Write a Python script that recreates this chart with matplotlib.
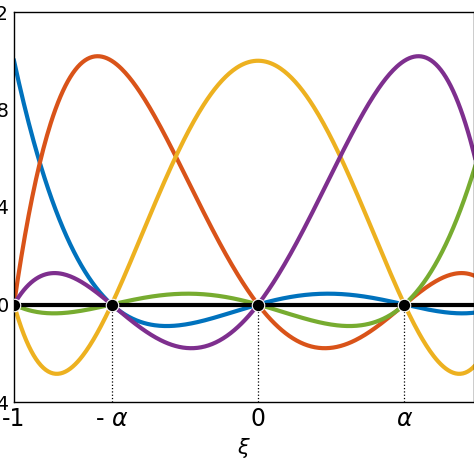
import matplotlib
matplotlib.use("Agg")
import matplotlib.pyplot as plt
import numpy as np

alpha = 0.6
nodes = [-1.0, -alpha, 0.0, alpha, 1.0]
colors = ['#0072BD', '#D95319', '#EDB120', '#7E2F8E', '#77AC30']
xtick_pos = [-1.0, -alpha, 0.0, alpha]
xtick_labels = ['-1', r'- $\alpha$', '0', r'$\alpha$']
ytick_pos = [-0.4, 0.0, 0.4, 0.8, 1.2]
ytick_labels = ['-0.4', '0', '0.4', '0.8', '1.2']

xi = np.linspace(-1, 1, 400)


def lagrange(k, x):
    out = np.ones_like(x)
    for j, xj in enumerate(nodes):
        if j != k:
            out *= (x - xj) / (nodes[k] - xj)
    return out


fig = plt.figure(figsize=(4.74, 4.74), dpi=100)
ax = fig.add_axes([14 / 474, 72 / 474, 460 / 474, 390 / 474])

for k in range(len(nodes)):
    ax.plot(xi, lagrange(k, xi), color=colors[k], lw=3)

ax.axhline(0, color='black', lw=3, zorder=3)
ax.plot(nodes, np.zeros(len(nodes)), 'o', color='black', ms=9,
        markeredgecolor='white', markeredgewidth=0.8, zorder=4)
for xn in [-alpha, 0.0, alpha]:
    ax.plot([xn, xn], [-0.4, 0], ':', color='black', lw=0.9)

ax.set_xlim(-1, 0.885)
ax.set_ylim(-0.4, 1.2)
ax.set_xticks(xtick_pos)
ax.set_xticklabels(xtick_labels, fontsize=17)
ax.set_yticks(ytick_pos)
ax.set_yticklabels(ytick_labels, fontsize=14)
ax.tick_params(direction='in', length=0)
ax.set_xlabel(r'$\xi$', fontsize=15)
for s in ax.spines.values():
    s.set_linewidth(1.0)

fig.savefig('out.png', dpi=100)
